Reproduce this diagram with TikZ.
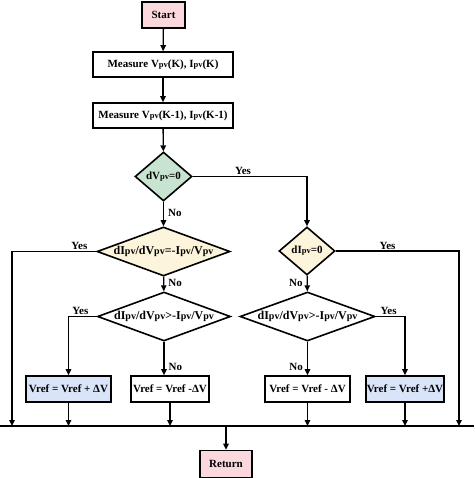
\documentclass[tikz,border=0pt]{standalone}
\usepackage{fontspec}
\setmainfont{Liberation Serif}
\usetikzlibrary{shapes.geometric,arrows.meta}
\definecolor{pinkfill}{RGB}{250,216,221}
\definecolor{greenfill}{RGB}{200,228,208}
\definecolor{creamfill}{RGB}{253,244,220}
\definecolor{bluefill}{RGB}{218,228,248}
\newcommand{\pv}{{\fontsize{8.5}{9}\selectfont pv}}
\newcommand{\bpv}{{\fontsize{10}{10}\selectfont pv}}
\tikzset{
  every node/.style={font=\fontsize{11}{12}\selectfont\bfseries},
  box/.style={draw, line width=1.6pt, rectangle, inner sep=0pt, minimum height=25pt},
  dec/.style={draw, line width=1.6pt, diamond, inner sep=0pt},
  bigdec/.style={dec, minimum width=133pt, minimum height=49pt, aspect=2.75, font=\fontsize{12}{12}\selectfont\bfseries},
  conn/.style={line width=1.3pt},
  arr/.style={conn, -{Triangle[length=6pt,width=5.5pt]}},
  lbl/.style={inner sep=1pt}
}
\begin{document}
\begin{tikzpicture}[x=1pt,y=-1pt]
\useasboundingbox (0,0) rectangle (474,478);
% nodes
\node[box, fill=pinkfill, minimum width=43pt, minimum height=26pt] (start) at (163.5,15) {Start};
\node[box, minimum width=140pt] (m1) at (163,64.5) {Measure V\pv(K), I\pv(K)};
\node[box, minimum width=140pt] (m2) at (163,115.5) {Measure V\pv(K-1), I\pv(K-1)};
\node[dec, fill=greenfill, minimum width=57pt, minimum height=49pt, aspect=1.16] (d1) at (163.5,176.5) {dV\pv=0};
\node[bigdec, fill=creamfill] (d2) at (163.5,251.5) {dI\bpv/dV\bpv=-I\bpv/V\bpv};
\node[bigdec] (d3) at (164,316.5) {dI\bpv/dV\bpv>-I\bpv/V\bpv};
\node[dec, fill=creamfill, minimum width=56pt, minimum height=48pt, aspect=1.16] (e1) at (307,251) {dI\pv=0};
\node[bigdec, minimum width=135pt] (e2) at (307.5,316.5) {dI\bpv/dV\bpv>-I\bpv/V\bpv};
\node[box, fill=bluefill, minimum width=85pt, minimum height=26pt] (b1) at (68.5,389) {Vref = Vref + ΔV};
\node[box, minimum width=78pt, minimum height=26pt] (b2) at (170,389) {Vref = Vref -ΔV};
\node[box, minimum width=85pt, minimum height=26pt] (b3) at (307.5,389) {Vref = Vref - ΔV};
\node[box, fill=bluefill, minimum width=78pt, minimum height=26pt] (b4) at (405,389) {Vref = Vref +ΔV};
\node[box, fill=pinkfill, minimum width=52pt, minimum height=27pt] (ret) at (226,464) {Return};
% bus coordinates
\coordinate (busW) at (0,426);
\coordinate (busE) at (474,426);
\coordinate (busL) at (12,426);
\coordinate (busR) at (459,426);
\coordinate (busM) at (226,426);
% connectors
\draw[arr] (start) -- (m1);
\draw[arr] (m1) -- (m2);
\draw[arr] (m2) -- (d1);
\draw[arr] (d1) -- node[lbl, right=3pt, pos=0.45] {No} (d2);
\draw[arr] (d1.east) -| node[lbl, above, pos=0.22] {Yes} (e1.north);
\draw[arr] (d2.west) -| node[lbl, above, pos=0.1] {Yes} (busL);
\draw[arr] (d2) -- node[lbl, right=3pt, pos=0.45] {No} (d3);
\draw[arr] (d3.west) -| node[lbl, above, pos=0.29] {Yes} (b1.north);
\draw[arr] (d3.south) -- node[lbl, right=3pt, pos=0.75] {No} (d3.south |- b2.north);
\draw[arr] (e1.east) -| node[lbl, above, pos=0.21] {Yes} (busR);
\draw[arr] (e1) -- node[lbl, left=3pt, pos=0.45] {No} (e2);
\draw[arr] (e2.east) -| node[lbl, above, pos=0.22] {Yes} (b4.north);
\draw[arr] (e2) -- node[lbl, left=3pt, pos=0.75] {No} (b3);
\draw[arr] (b1) -- (b1.south |- busW);
\draw[arr] (b2) -- (b2.south |- busW);
\draw[arr] (b3) -- (b3.south |- busW);
\draw[arr] (b4) -- (b4.south |- busW);
\draw[conn] (busW) -- (busE);
\draw[arr] (busM) -- (ret);
\end{tikzpicture}
\end{document}
